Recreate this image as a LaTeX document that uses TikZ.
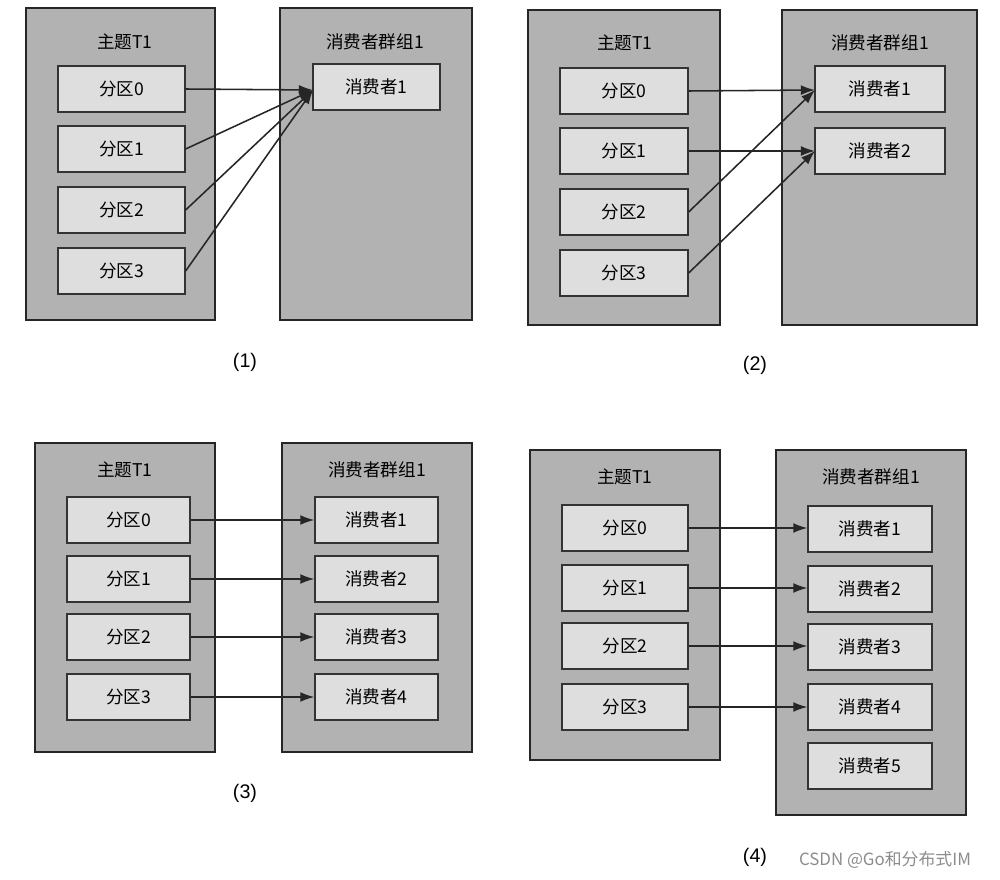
\documentclass[tikz,border=0pt]{standalone}
\usepackage{fontspec}
\setmainfont{Liberation Serif}
\newfontfamily\cjk{Noto Sans CJK SC}
\newfontfamily\sans{Liberation Sans}
\usetikzlibrary{calc,arrows.meta}
\tikzset{
  big/.style={draw=black!85,line width=1.2pt,fill=black!30,inner sep=0},
  part/.style={draw=black!80,line width=0.9pt,fill=black!13,inner sep=0,font=\cjk\fontsize{12.5}{12.5}\selectfont},
  ttl/.style={font=\cjk\fontsize{12.5}{12.5}\selectfont},
  arr/.style={-{Latex[length=10pt,width=7pt]},line width=1.1pt,black!85},
  lab/.style={font=\sans\fontsize{14}{14}\selectfont}
}
% \mybx{style}{name}{x1}{y1}{x2}{y2}{text}
\newcommand{\mybx}[7]{\node[#1,minimum width={(#5-#3)*0.025cm},minimum height={(#6-#4)*0.025cm}] (#2) at ({(#3+#5)/2},{(#4+#6)/2}) {#7};}
\begin{document}
\begin{tikzpicture}[x=0.025cm,y=-0.025cm]
\useasboundingbox (0,0) rectangle (1000,880);
% panel 1
\mybx{big}{A}{26}{8}{215}{320}{}
\mybx{big}{B}{280}{8}{472}{320}{}
\node[ttl] (At) at (125,42) {主题T1};
\node[ttl] (Bt) at (375,42) {消费者群组1};
\mybx{part}{Ap0}{58}{66}{185}{112}{分区0}
\mybx{part}{Ap1}{58}{126}{185}{172}{分区1}
\mybx{part}{Ap2}{58}{187}{185}{233}{分区2}
\mybx{part}{Ap3}{58}{248}{185}{294}{分区3}
\mybx{part}{Ac1}{313}{64}{440}{110}{消费者1}
\coordinate (Ain) at (313,90);
\foreach \i in {0,...,3} \draw[arr] (Ap\i.east) -- (Ain);
\node[lab] (L1) at (245,362) {(1)};
% panel 2
\mybx{big}{C}{528}{10}{720}{325}{}
\mybx{big}{D}{782}{10}{977}{325}{}
\node[ttl] (Ct) at (625,43) {主题T1};
\node[ttl] (Dt) at (880,43) {消费者群组1};
\mybx{part}{Cp0}{560}{68}{688}{114}{分区0}
\mybx{part}{Cp1}{560}{128}{688}{174}{分区1}
\mybx{part}{Cp2}{560}{189}{688}{235}{分区2}
\mybx{part}{Cp3}{560}{250}{688}{296}{分区3}
\mybx{part}{Cc1}{815}{66}{945}{112}{消费者1}
\mybx{part}{Cc2}{815}{128}{945}{174}{消费者2}
\coordinate (Cin1) at (815,90);
\coordinate (Cin2) at (815,151);
\draw[arr] (Cp0.east) -- (Cin1);
\draw[arr] (Cp2.east) -- (Cin1);
\draw[arr] (Cp1.east) -- (Cin2);
\draw[arr] (Cp3.east) -- (Cin2);
\node[lab] (L2) at (755,365) {(2)};
% panel 3
\mybx{big}{E}{35}{443}{215}{752}{}
\mybx{big}{F}{282}{443}{472}{752}{}
\node[ttl] (Et) at (125,470) {主题T1};
\node[ttl] (Ft) at (377,470) {消费者群组1};
\mybx{part}{Ep0}{67}{497}{190}{543}{分区0}
\mybx{part}{Ep1}{67}{556}{190}{602}{分区1}
\mybx{part}{Ep2}{67}{614}{190}{660}{分区2}
\mybx{part}{Ep3}{67}{674}{190}{720}{分区3}
\mybx{part}{Ec0}{315}{497}{438}{543}{消费者1}
\mybx{part}{Ec1}{315}{556}{438}{602}{消费者2}
\mybx{part}{Ec2}{315}{614}{438}{660}{消费者3}
\mybx{part}{Ec3}{315}{674}{438}{720}{消费者4}
\foreach \i in {0,...,3} \draw[arr] (Ep\i.east) -- (Ec\i.west);
\node[lab] (L3) at (245,793) {(3)};
% panel 4
\mybx{big}{G}{530}{450}{720}{760}{}
\mybx{big}{H}{776}{450}{966}{815}{}
\node[ttl] (Gt) at (625,477) {主题T1};
\node[ttl] (Ht) at (871,477) {消费者群组1};
\mybx{part}{Gp0}{562}{505}{688}{551}{分区0}
\mybx{part}{Gp1}{562}{565}{688}{611}{分区1}
\mybx{part}{Gp2}{562}{623}{688}{669}{分区2}
\mybx{part}{Gp3}{562}{684}{688}{730}{分区3}
\mybx{part}{Gc0}{808}{506}{932}{552}{消费者1}
\mybx{part}{Gc1}{808}{566}{932}{612}{消费者2}
\mybx{part}{Gc2}{808}{624}{932}{670}{消费者3}
\mybx{part}{Gc3}{808}{684}{932}{730}{消费者4}
\mybx{part}{Gc4}{808}{743}{932}{789}{消费者5}
\foreach \i in {0,...,3} \draw[arr] (Gp\i.east) -- (Gp\i.east -| Gc\i.west);
\node[lab] (L4) at (755,857) {(4)};
\node[font=\cjk\fontsize{12}{12}\selectfont,text=black!45] (wm) at (885,860) {CSDN @Go和分布式IM};
\end{tikzpicture}
\end{document}
